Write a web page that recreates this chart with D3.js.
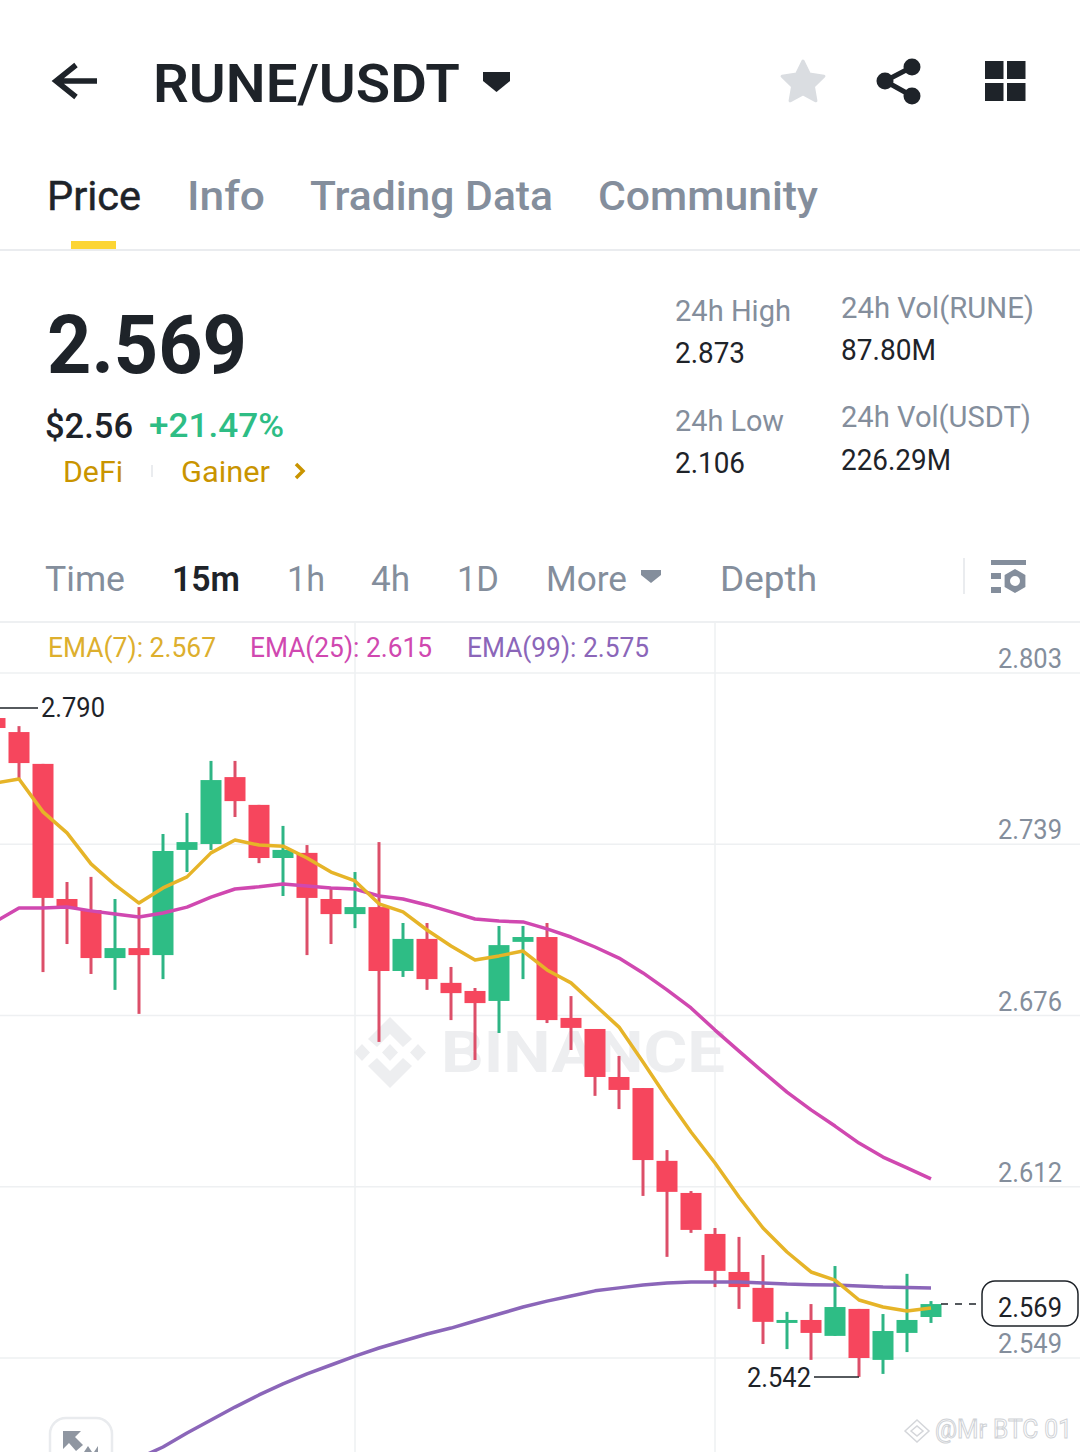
<!DOCTYPE html>
<html>
<head>
<meta charset="utf-8">
<title>RUNE/USDT</title>
<script src="https://cdn.jsdelivr.net/npm/d3@7"></script>
<style>
  html, body { margin: 0; padding: 0; background: #fff; }
  svg { display: block; }
  text { font-family: Roboto, "Noto Sans", sans-serif; }
</style>
</head>
<body>
<div id="chart"></div>
<script>
// 15m candles
var candleOpen = [2.7863, 2.7811, 2.7693, 2.7192, 2.7151, 2.6973, 2.7010, 2.6984, 2.7374, 2.7396,
  2.7644, 2.7541, 2.7344, 2.7363, 2.7192, 2.7136, 2.7162, 2.6925, 2.7044, 2.6881,
  2.6851, 2.6814, 2.7033, 2.7051, 2.6751, 2.6710, 2.6532, 2.6491, 2.6221, 2.6102,
  2.5950, 2.5809, 2.5750, 2.5620, 2.5631, 2.5572, 2.5672, 2.5483, 2.5583, 2.5642];
var candleHigh = [2.7900, 2.7833, 2.7693, 2.7255, 2.7274, 2.7192, 2.7162, 2.7433, 2.7511, 2.7704,
  2.7704, 2.7541, 2.7463, 2.7392, 2.7233, 2.7292, 2.7403, 2.7103, 2.7103, 2.6940,
  2.6862, 2.7092, 2.7092, 2.7103, 2.6832, 2.6710, 2.6610, 2.6491, 2.6261, 2.6109,
  2.5972, 2.5939, 2.5872, 2.5661, 2.5690, 2.5831, 2.5672, 2.5653, 2.5802, 2.5701];
var candleLow = [2.7826, 2.7633, 2.6921, 2.7025, 2.6914, 2.6855, 2.6766, 2.6895, 2.7292, 2.7374,
  2.7496, 2.7325, 2.7203, 2.6984, 2.7025, 2.7084, 2.6662, 2.6903, 2.6855, 2.6743,
  2.6595, 2.6695, 2.6895, 2.6732, 2.6632, 2.6462, 2.6413, 2.6091, 2.5865, 2.5954,
  2.5753, 2.5672, 2.5542, 2.5523, 2.5483, 2.5572, 2.5420, 2.5431, 2.5512, 2.5620];
var candleClose = [2.7826, 2.7696, 2.7196, 2.7162, 2.6973, 2.7010, 2.6984, 2.7370, 2.7403, 2.7633,
  2.7555, 2.7344, 2.7374, 2.7196, 2.7136, 2.7162, 2.6925, 2.7044, 2.6895, 2.6843,
  2.6806, 2.7021, 2.7051, 2.6743, 2.6714, 2.6532, 2.6484, 2.6224, 2.6106, 2.5965,
  2.5813, 2.5753, 2.5624, 2.5631, 2.5583, 2.5679, 2.5490, 2.5590, 2.5631, 2.5690];

var ema7 = [2.7622, 2.7637, 2.7515, 2.7437, 2.7322, 2.7244, 2.7177, 2.7233, 2.7274, 2.7363,
  2.7411, 2.7392, 2.7388, 2.7344, 2.7292, 2.7259, 2.7174, 2.7144, 2.7077, 2.7018,
  2.6966, 2.6981, 2.6999, 2.6929, 2.6881, 2.6799, 2.6717, 2.6588, 2.6454, 2.6328,
  2.6213, 2.6087, 2.5972, 2.5883, 2.5809, 2.5779, 2.5705, 2.5679, 2.5664, 2.5675];
var ema25 = [2.7107, 2.7159, 2.7159, 2.7162, 2.7148, 2.7136, 2.7125, 2.7140, 2.7162, 2.7199,
  2.7229, 2.7237, 2.7248, 2.7240, 2.7233, 2.7229, 2.7203, 2.7192, 2.7170, 2.7144,
  2.7118, 2.7110, 2.7107, 2.7081, 2.7051, 2.7014, 2.6973, 2.6918, 2.6855, 2.6788,
  2.6706, 2.6628, 2.6551, 2.6476, 2.6410, 2.6350, 2.6287, 2.6235, 2.6195, 2.6154];
var ema99 = [null, null, null, null, null, null, 2.5119, 2.5160, 2.5212, 2.5260,
  2.5308, 2.5353, 2.5394, 2.5431, 2.5464, 2.5497, 2.5527, 2.5553, 2.5579, 2.5601,
  2.5627, 2.5653, 2.5679, 2.5701, 2.5720, 2.5739, 2.5750, 2.5761, 2.5768, 2.5772,
  2.5772, 2.5772, 2.5768, 2.5764, 2.5762, 2.5761, 2.5757, 2.5753, 2.5751, 2.5750];

// the axis steps evenly, the labels are cut to three decimals
var priceTicks = [2.8030, 2.7395, 2.6760, 2.6125, 2.5490];
var priceTickLabels = ['2.803', '2.739', '2.676', '2.612', '2.549'];
var tabLabels = ['Price', 'Info', 'Trading Data', 'Community'];
var intervalLabels = ['Time', '15m', '1h', '4h', '1D', 'More', 'Depth'];

var RED = '#F6465D', GREEN = '#2EBD85', INK = '#1E2329', GREY = '#848E9C', LINE = '#EEF0F2';

var svg = d3.select('#chart').append('svg')
  .attr('width', 1080)
  .attr('height', 1452);

function label(x, y, str, size, weight, color, width, anchor) {
  var t = svg.append('text')
    .attr('x', x)
    .attr('y', y)
    .attr('font-size', size)
    .attr('font-weight', weight)
    .attr('fill', color)
    .attr('text-anchor', anchor || 'start')
    .text(str);
  if (width) t.attr('textLength', width).attr('lengthAdjust', 'spacingAndGlyphs');
  return t;
}

// ---- header
svg.append('path')
  .attr('d', 'M97 81H57M76 65L56 81L76 97')
  .attr('fill', 'none')
  .attr('stroke', INK)
  .attr('stroke-width', 5.5);
label(153, 102, 'RUNE/USDT', 54, 600, INK, 307);
svg.append('path').attr('d', 'M483 72H510V81L496.5 92L483 81Z').attr('fill', INK);
svg.append('path')
  .attr('d', d3.range(10).map(function(i) {
    var r = i % 2 ? 11 : 22, a = -Math.PI / 2 + i * Math.PI / 5;
    return (i ? 'L' : 'M') + (803 + r * Math.cos(a)) + ' ' + (83 + r * Math.sin(a));
  }).join('') + 'Z')
  .attr('fill', '#DADDE1')
  .attr('stroke', '#DADDE1')
  .attr('stroke-width', 3)
  .attr('stroke-linejoin', 'round');
svg.append('path')
  .attr('d', 'M912 67L885 81L912 96')
  .attr('fill', 'none')
  .attr('stroke', INK)
  .attr('stroke-width', 5);
[[912, 67, 8.5], [885, 81, 8.5], [912, 96, 8.5]].forEach(function(c) {
  svg.append('circle').attr('cx', c[0]).attr('cy', c[1]).attr('r', c[2]).attr('fill', INK);
});
[[985, 61], [1007, 61], [985, 83], [1007, 83]].forEach(function(c) {
  svg.append('rect').attr('x', c[0]).attr('y', c[1]).attr('width', 18.5).attr('height', 18).attr('fill', INK);
});

// ---- tabs
var tabX = [47, 187, 310, 598], tabW = [94, 78, 243, 220];
tabLabels.forEach(function(d, i) {
  label(tabX[i], 210, d, 41, i ? 500 : 400, i ? GREY : INK, tabW[i])
    .attr('stroke', i ? 'none' : INK)
    .attr('stroke-width', 0.5);
});
svg.append('rect').attr('x', 71).attr('y', 241).attr('width', 45).attr('height', 8).attr('fill', '#FCD535');
svg.append('rect').attr('x', 0).attr('y', 249).attr('width', 1080).attr('height', 2).attr('fill', '#EAECEF');

// ---- price block
label(47, 373, '2.569', 82, 700, INK, 200);
label(45, 438, '$2.56', 35, 500, INK, 88);
label(149, 437, '+21.47%', 33, 500, GREEN, 135);
label(63, 482, 'DeFi', 29, 400, '#C99400', 60);
svg.append('rect').attr('x', 151).attr('y', 465).attr('width', 2).attr('height', 12).attr('fill', '#EAECEF');
label(181, 482, 'Gainer', 29, 400, '#C99400', 89);
svg.append('path')
  .attr('d', 'M296 464L303 471L296 478')
  .attr('fill', 'none')
  .attr('stroke', '#C99400')
  .attr('stroke-width', 3.5);

label(675, 321, '24h High', 29, 400, GREY, 116);
label(675, 363, '2.873', 29, 400, INK, 70);
label(841, 318, '24h Vol(RUNE)', 29, 400, GREY, 193);
label(841, 360, '87.80M', 29, 400, INK, 95);
label(675, 431, '24h Low', 29, 400, GREY, 109);
label(675, 473, '2.106', 29, 400, INK, 70);
label(841, 427, '24h Vol(USDT)', 29, 400, GREY, 190);
label(841, 470, '226.29M', 29, 400, INK, 110);

// ---- interval bar
var intervalX = [45, 172, 287, 371, 457, 546, 720], intervalW = [80, 68, 38, 39, 42, 81, 97];
intervalLabels.forEach(function(d, i) {
  label(intervalX[i], 591, d, 35, i === 1 ? 600 : 400, i === 1 ? INK : GREY, intervalW[i]);
});
svg.append('path').attr('d', 'M641 570H661V575L651 583L641 575Z').attr('fill', GREY);
svg.append('rect').attr('x', 963).attr('y', 558).attr('width', 2).attr('height', 36).attr('fill', '#EAECEF');
svg.append('rect').attr('x', 991).attr('y', 560).attr('width', 35).attr('height', 5).attr('fill', GREY);
svg.append('rect').attr('x', 991).attr('y', 573).attr('width', 10).attr('height', 6).attr('fill', GREY);
svg.append('rect').attr('x', 991).attr('y', 587).attr('width', 10).attr('height', 6).attr('fill', GREY);
svg.append('path')
  .attr('fill-rule', 'evenodd')
  .attr('d', d3.range(6).map(function(i) {
    var a = -Math.PI / 2 + i * Math.PI / 3;
    return (i ? 'L' : 'M') + (1015 + 12 * Math.cos(a)) + ' ' + (581 + 12 * Math.sin(a));
  }).join('') + 'Z M1020 581A5 5 0 1 0 1010 581A5 5 0 1 0 1020 581Z')
  .attr('fill', GREY);
svg.append('rect').attr('x', 0).attr('y', 621).attr('width', 1080).attr('height', 2).attr('fill', LINE);

// ---- chart
var x = d3.scaleLinear().domain([0, 39]).range([-5, 931]);
var y = d3.scaleLinear().domain([2.549, 2.803]).range([1358, 673]);

svg.append('g').selectAll('line')
  .data(priceTicks)
  .join('line')
  .attr('x1', 0)
  .attr('x2', 1080)
  .attr('y1', function(d) { return y(d); })
  .attr('y2', function(d) { return y(d); })
  .attr('stroke', LINE)
  .attr('stroke-width', 1.5);

svg.append('g').selectAll('line')
  .data([355, 715])
  .join('line')
  .attr('x1', function(d) { return d; })
  .attr('x2', function(d) { return d; })
  .attr('y1', 623)
  .attr('y2', 1452)
  .attr('stroke', LINE)
  .attr('stroke-width', 1.5);

// watermark
var wm = svg.append('g').attr('fill', '#EDEEF0');
wm.append('path').attr('d', 'M390 1017L412 1039L403 1047L390 1034L377 1047L368 1039Z');
wm.append('path').attr('d', 'M390 1088L412 1066L403 1058L390 1071L377 1058L368 1066Z');
wm.append('path').attr('d', 'M390 1044L398 1052.500L390 1061L382 1052.500Z');
wm.append('path').attr('d', 'M362 1044L370 1052.500L362 1061L354 1052.500Z');
wm.append('path').attr('d', 'M418 1044L426 1052.500L418 1061L410 1052.500Z');
label(441, 1072, 'BINANCE', 58, 700, '#EDEEF0', 284);

// candles
var candles = candleOpen.map(function(o, i) {
  return { i: i, open: o, high: candleHigh[i], low: candleLow[i], close: candleClose[i] };
});
function candleColor(d) { return d.close >= d.open ? GREEN : RED; }

svg.append('g').selectAll('line')
  .data(candles)
  .join('line')
  .attr('x1', function(d) { return x(d.i); })
  .attr('x2', function(d) { return x(d.i); })
  .attr('y1', function(d) { return y(d.high); })
  .attr('y2', function(d) { return y(d.low); })
  .attr('stroke', function(d) { return d.close >= d.open ? '#2EB585' : '#DC4F69'; })
  .attr('stroke-width', 3);

svg.append('g').selectAll('rect')
  .data(candles)
  .join('rect')
  .attr('x', function(d) { return x(d.i) - 10.5; })
  .attr('width', 21)
  .attr('y', function(d) { return y(Math.max(d.open, d.close)); })
  .attr('height', function(d) { return Math.abs(y(d.open) - y(d.close)); })
  .attr('fill', candleColor);

// EMA lines
var emaLine = d3.line()
  .defined(function(d) { return d !== null; })
  .x(function(d, i) { return x(i); })
  .y(function(d) { return y(d); });

[[ema99, '#8B66B9'], [ema25, '#D048B0'], [ema7, '#E6B428']].forEach(function(s) {
  svg.append('path')
    .attr('d', emaLine(s[0]))
    .attr('fill', 'none')
    .attr('stroke', s[1])
    .attr('stroke-width', 3.5)
    .attr('stroke-linejoin', 'round');
});

// legend
label(48, 657, 'EMA(7): 2.567', 27, 400, '#DDAF2E', 168);
label(250, 657, 'EMA(25): 2.615', 27, 400, '#D048B0', 182);
label(467, 657, 'EMA(99): 2.575', 27, 400, '#8B66B9', 182);

// price axis labels
svg.append('g').selectAll('text')
  .data(priceTicks)
  .join('text')
  .attr('x', 998)
  .attr('y', function(d) { return y(d) - 5; })
  .attr('font-size', 27)
  .attr('fill', GREY)
  .attr('textLength', 64)
  .attr('lengthAdjust', 'spacingAndGlyphs')
  .text(function(d, i) { return priceTickLabels[i]; });

// high / low markers
svg.append('line').attr('x1', 0).attr('x2', 38).attr('y1', y(2.790)).attr('y2', y(2.790)).attr('stroke', INK).attr('stroke-width', 1.5);
label(41, 717, '2.790', 27, 400, INK, 64);
svg.append('line').attr('x1', 814).attr('x2', x(36)).attr('y1', y(2.542)).attr('y2', y(2.542)).attr('stroke', INK).attr('stroke-width', 1.5);
label(747, 1387, '2.542', 27, 400, INK, 64);

// last price tag
svg.append('line')
  .attr('x1', 941).attr('x2', 982)
  .attr('y1', y(2.569)).attr('y2', y(2.569))
  .attr('stroke', INK)
  .attr('stroke-width', 1.5)
  .attr('stroke-dasharray', '7 7');
svg.append('rect')
  .attr('x', 982).attr('y', 1281)
  .attr('width', 96).attr('height', 45)
  .attr('rx', 13)
  .attr('fill', '#fff')
  .attr('stroke', INK)
  .attr('stroke-width', 1.5);
label(998, 1317, '2.569', 27, 400, INK, 64);

// collapse button
svg.append('rect')
  .attr('x', 50).attr('y', 1418)
  .attr('width', 62).attr('height', 60)
  .attr('rx', 16)
  .attr('fill', '#fff')
  .attr('stroke', '#E9EBEE')
  .attr('stroke-width', 2.5);
svg.append('path').attr('d', 'M63 1431H81L75 1437L83 1445L76 1451L69 1443L63 1449Z').attr('fill', '#8F96A1');
svg.append('path').attr('d', 'M84 1452L88 1446L92 1452ZM94 1452L98 1446V1452Z').attr('fill', '#8F96A1');

// credit watermark
svg.append('path')
  .attr('d', 'M905 1431L917 1420L929 1431L917 1442ZM911 1431L917 1426L923 1431L917 1436Z')
  .attr('fill', 'none')
  .attr('stroke', '#D4D6DA')
  .attr('stroke-width', 1.5);
label(935, 1438, '@Mr BTC 01', 26, 400, '#fff', 137)
  .attr('stroke', '#CFD2D6')
  .attr('stroke-width', 1);
</script>
</body>
</html>
